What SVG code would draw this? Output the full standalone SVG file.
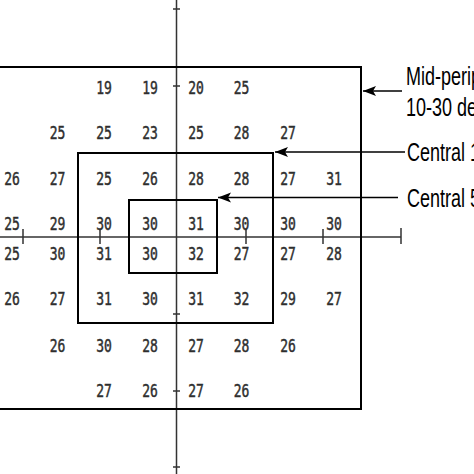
<svg xmlns="http://www.w3.org/2000/svg" width="474" height="474" viewBox="0 0 474 474">
<style>
.n{font-family:"DejaVu Sans Mono","Liberation Mono",monospace;font-size:13px;fill:#2e2e2e;stroke:#2e2e2e;stroke-width:0.35;text-anchor:middle}
.lbl{font-family:"Liberation Sans",Arial,sans-serif;font-size:18px;fill:#000}
.box{fill:none;stroke:#000;stroke-width:2}
.ax{stroke:#333;stroke-width:1.5;fill:none}
.ar{stroke:#000;stroke-width:1.6;fill:none}
</style>
<defs>
<marker id="ah" markerUnits="userSpaceOnUse" markerWidth="16" markerHeight="12" refX="13" refY="5" orient="auto">
<path d="M0,0 L13,5 L0,10 L3,5 z" fill="#000"/>
</marker>
</defs>
<rect width="474" height="474" fill="#fff"/>
<g id="axes">
<line class="ax" x1="176.5" y1="0" x2="176.5" y2="474"/>
<line class="ax" x1="0" y1="237" x2="401" y2="237"/>
<path class="ax" d="M173,9H180M173,86H180M173,314H180M173,391H180M173,467H180M23,229V244M100,229V244M246,229V244M323,229V244M401,228V244"/>
</g>
<g id="mid-peripheral">
<rect class="box" x="-5" y="67" width="366" height="342"/>
</g>
<g id="central10">
<rect class="box" x="78" y="153" width="195" height="170" stroke-width="1.8"/>
</g>
<g id="central5">
<rect class="box" x="129" y="200" width="88" height="73" stroke-width="1.8"/>
</g>
<g id="connectors">
<line class="ar" x1="402" y1="91" x2="363" y2="91" marker-end="url(#ah)"/>
<line class="ar" x1="405" y1="152" x2="275" y2="152" marker-end="url(#ah)"/>
<line class="ar" x1="398" y1="197.5" x2="218" y2="197.5" marker-end="url(#ah)"/>
</g>
<g id="labels">
<text class="lbl" transform="translate(406 85) scale(1 1.38)">Mid-peripheral</text>
<text class="lbl" transform="translate(406 116) scale(1 1.38)">10-30 degrees</text>
<text class="lbl" transform="translate(407 161) scale(1 1.38)">Central 10 degrees</text>
<text class="lbl" transform="translate(407 207) scale(1 1.38)">Central 5 degrees</text>
</g>
<g id="values">
<text class="n" transform="translate(104 93.5) scale(1 1.37)">19</text>
<text class="n" transform="translate(150 93.5) scale(1 1.37)">19</text>
<text class="n" transform="translate(196 93.5) scale(1 1.37)">20</text>
<text class="n" transform="translate(241.5 93.5) scale(1 1.37)">25</text>

<text class="n" transform="translate(57.5 138.5) scale(1 1.37)">25</text>
<text class="n" transform="translate(104 138.5) scale(1 1.37)">25</text>
<text class="n" transform="translate(150 138.5) scale(1 1.37)">23</text>
<text class="n" transform="translate(196 138.5) scale(1 1.37)">25</text>
<text class="n" transform="translate(241.5 138.5) scale(1 1.37)">28</text>
<text class="n" transform="translate(288 138.5) scale(1 1.37)">27</text>

<text class="n" transform="translate(12 184.5) scale(1 1.37)">26</text>
<text class="n" transform="translate(57.5 184.5) scale(1 1.37)">27</text>
<text class="n" transform="translate(104 184.5) scale(1 1.37)">25</text>
<text class="n" transform="translate(150 184.5) scale(1 1.37)">26</text>
<text class="n" transform="translate(196 184.5) scale(1 1.37)">28</text>
<text class="n" transform="translate(241.5 184.5) scale(1 1.37)">28</text>
<text class="n" transform="translate(288 184.5) scale(1 1.37)">27</text>
<text class="n" transform="translate(334 184.5) scale(1 1.37)">31</text>

<text class="n" transform="translate(12 229.5) scale(1 1.37)">25</text>
<text class="n" transform="translate(57.5 229.5) scale(1 1.37)">29</text>
<text class="n" transform="translate(104 229.5) scale(1 1.37)">30</text>
<text class="n" transform="translate(150 229.5) scale(1 1.37)">30</text>
<text class="n" transform="translate(196 229.5) scale(1 1.37)">31</text>
<text class="n" transform="translate(241.5 229.5) scale(1 1.37)">30</text>
<text class="n" transform="translate(288 229.5) scale(1 1.37)">30</text>
<text class="n" transform="translate(334 229.5) scale(1 1.37)">30</text>

<text class="n" transform="translate(12 259.5) scale(1 1.37)">25</text>
<text class="n" transform="translate(57.5 259.5) scale(1 1.37)">30</text>
<text class="n" transform="translate(104 259.5) scale(1 1.37)">31</text>
<text class="n" transform="translate(150 259.5) scale(1 1.37)">30</text>
<text class="n" transform="translate(196 259.5) scale(1 1.37)">32</text>
<text class="n" transform="translate(241.5 259.5) scale(1 1.37)">27</text>
<text class="n" transform="translate(288 259.5) scale(1 1.37)">27</text>
<text class="n" transform="translate(334 259.5) scale(1 1.37)">28</text>

<text class="n" transform="translate(12 305) scale(1 1.37)">26</text>
<text class="n" transform="translate(57.5 305) scale(1 1.37)">27</text>
<text class="n" transform="translate(104 305) scale(1 1.37)">31</text>
<text class="n" transform="translate(150 305) scale(1 1.37)">30</text>
<text class="n" transform="translate(196 305) scale(1 1.37)">31</text>
<text class="n" transform="translate(241.5 305) scale(1 1.37)">32</text>
<text class="n" transform="translate(288 305) scale(1 1.37)">29</text>
<text class="n" transform="translate(334 305) scale(1 1.37)">27</text>

<text class="n" transform="translate(57.5 351.5) scale(1 1.37)">26</text>
<text class="n" transform="translate(104 351.5) scale(1 1.37)">30</text>
<text class="n" transform="translate(150 351.5) scale(1 1.37)">28</text>
<text class="n" transform="translate(196 351.5) scale(1 1.37)">27</text>
<text class="n" transform="translate(241.5 351.5) scale(1 1.37)">28</text>
<text class="n" transform="translate(288 351.5) scale(1 1.37)">26</text>

<text class="n" transform="translate(104 397) scale(1 1.37)">27</text>
<text class="n" transform="translate(150 397) scale(1 1.37)">26</text>
<text class="n" transform="translate(196 397) scale(1 1.37)">27</text>
<text class="n" transform="translate(241.5 397) scale(1 1.37)">26</text>
</g>
</svg>
